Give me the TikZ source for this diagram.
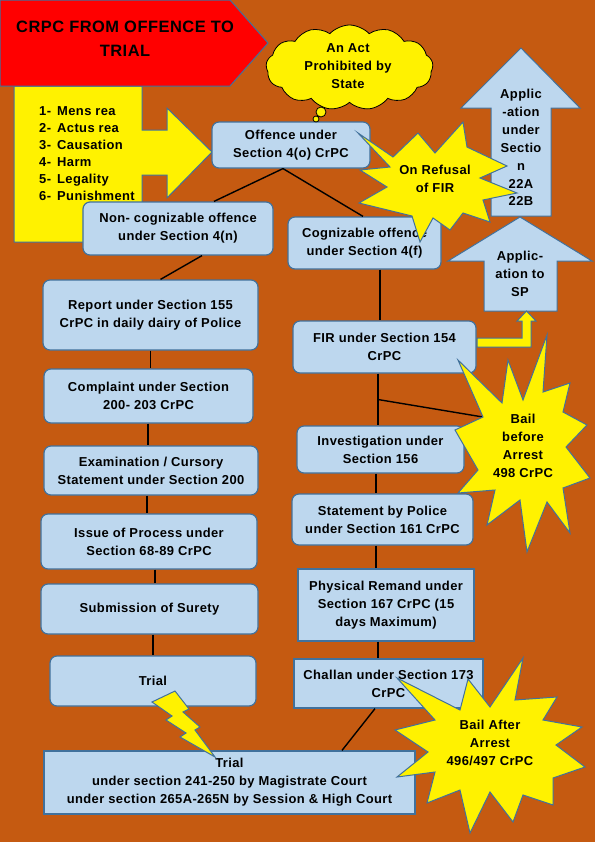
\documentclass[tikz,border=0pt]{standalone}
\usepackage{fontspec}
\setmainfont{Liberation Sans}[LetterSpace=3]
\usetikzlibrary{positioning,shapes.symbols}

\definecolor{bgorange}{RGB}{197,90,17}
\definecolor{boxblue}{RGB}{189,215,238}
\definecolor{edgeblue}{RGB}{65,113,156}

\begin{document}
\begin{tikzpicture}[x=1bp,y=-1bp,
	% Define styles for boxes, bursts and lines
	box style/.style={rectangle, rounded corners=7bp, draw=edgeblue, line width=1.2bp, fill=boxblue, align=center, font=\bfseries\fontsize{13}{18}\selectfont, inner sep=0pt},
	flat style/.style={box style, sharp corners},
	burst style/.style={fill=yellow, draw=edgeblue, line width=1bp, line join=miter},
	shape style/.style={draw=edgeblue, line width=1bp},
	link style/.style={draw=black, line width=1.4bp},
	label style/.style={align=center, font=\bfseries\fontsize{13}{18}\selectfont, inner sep=0pt}
	]

	% Background
	\fill[bgorange] (0,0) rectangle (595,842);
	\useasboundingbox (0,0) rectangle (595,842);

	% --- Elements arrow and title ---
	\filldraw[shape style, fill=yellow] (14,86) -- (142,86) -- (142,130) -- (167,130) -- (167,108) -- (212,152) -- (167,198) -- (167,175) -- (142,175) -- (142,242) -- (14,242) -- cycle;
	\node[label style, anchor=west, align=left, font=\bfseries\fontsize{13}{17}\selectfont] (elements) at (39,153.5)
		{\makebox[18bp][l]{1-}Mens rea\\\makebox[18bp][l]{2-}Actus rea\\\makebox[18bp][l]{3-}Causation\\\makebox[18bp][l]{4-}Harm\\\makebox[18bp][l]{5-}Legality\\\makebox[18bp][l]{6-}Punishment};

	\filldraw[shape style, fill=red] (0,0) -- (230,0) -- (268,43) -- (230,86) -- (0,86) -- cycle;
	\node[label style, font=\bfseries\fontsize{16.5}{24}\selectfont] (title) at (125,39) {CRPC FROM OFFENCE TO\\TRIAL};

	% --- Application arrows ---
	\filldraw[shape style, fill=boxblue] (521,48) -- (580,108) -- (551,108) -- (551,216) -- (491,216) -- (491,108) -- (461,108) -- cycle;
	\node[label style] (apply22) at (521,147.5) {Applic\\-ation\\under\\Sectio\\n\\22A\\22B};
	\filldraw[shape style, fill=boxblue] (520,217) -- (592,261) -- (557,261) -- (557,311) -- (484,311) -- (484,261) -- (448,261) -- cycle;
	\node[label style] (applysp) at (520,274) {Applic-\\ation to\\SP};

	% Define and place the boxes
	\node[box style, minimum width=158bp, minimum height=46bp] (offence) at (291,145) {Offence under\\Section 4(o) CrPC};
	\node[box style, minimum width=190bp, minimum height=53bp] (noncog) at (178,228.5) {Non- cognizable offence\\under Section 4(n)};
	\node[box style, minimum width=153bp, minimum height=52bp] (cog) at (364.5,243) {Cognizable offence\\under Section 4(f)};

	\node[box style, minimum width=215bp, minimum height=70bp] (report) at (150.5,315) {Report under Section 155\\CrPC in daily dairy of Police};
	\node[box style, minimum width=209bp, minimum height=54bp] (complaint) at (148.5,396) {Complaint under Section\\200- 203 CrPC};
	\node[box style, minimum width=214bp, minimum height=49bp] (exam) at (151,470.5) {Examination / Cursory\\Statement under Section 200};
	\node[box style, minimum width=216bp, minimum height=55bp] (issue) at (149,541.5) {Issue of Process under\\Section 68-89 CrPC};
	\node[box style, minimum width=217bp, minimum height=50bp] (surety) at (149.5,609) {Submission of Surety};
	\node[box style, minimum width=206bp, minimum height=50bp] (trialbox) at (153,681) {Trial};

	\node[box style, minimum width=183bp, minimum height=52bp] (fir) at (384.5,347) {FIR under Section 154\\CrPC};
	\node[box style, minimum width=167bp, minimum height=47bp] (invest) at (380.5,449.5) {Investigation under\\Section 156};
	\node[box style, minimum width=181bp, minimum height=51bp] (police) at (382.5,519.5) {Statement by Police\\under Section 161 CrPC};
	\node[flat style, minimum width=176bp, minimum height=72bp] (remand) at (386,605) {Physical Remand under\\Section 167 CrPC (15\\days Maximum)};
	\node[flat style, minimum width=189bp, minimum height=49bp] (challan) at (388.5,683.5) {Challan under Section 173\\CrPC};

	\node[flat style, minimum width=371bp, minimum height=63bp] (court) at (229.5,782.5) {Trial\\under section 241-250 by Magistrate Court\\under section 265A-265N by Session \& High Court};

	% --- Draw the edges ---
	\draw[link style] ([xshift=-8bp]offence.south) -- ([xshift=36bp]noncog.north);
	\draw[link style] ([xshift=-8bp]offence.south) -- ([xshift=-1.5bp]cog.north);
	\draw[link style] ([xshift=24bp]noncog.south) -- ([xshift=10bp]report.north);
	\draw[link style] (report.south) -- (report.south |- complaint.north);
	\draw[link style] ([xshift=-0.5bp]complaint.south) -- ([xshift=-0.5bp]complaint.south |- exam.north);
	\draw[link style] ([xshift=-4bp]exam.south) -- ([xshift=-4bp]exam.south |- issue.north);
	\draw[link style] ([xshift=6bp]issue.south) -- ([xshift=6bp]issue.south |- surety.north);
	\draw[link style] ([xshift=3.5bp]surety.south) -- ([xshift=3.5bp]surety.south |- trialbox.north);

	\draw[link style] ([xshift=15.5bp]cog.south) -- ([xshift=15.5bp]cog.south |- fir.north);
	\draw[link style] ([xshift=-6.5bp]fir.south) -- coordinate[pos=0.5] (firfork) ([xshift=-6.5bp]fir.south |- invest.north);
	\draw[link style] ([xshift=-4.5bp]invest.south) -- ([xshift=-4.5bp]invest.south |- police.north);
	\draw[link style] ([xshift=-6.5bp]police.south) -- ([xshift=-6.5bp]police.south |- remand.north);
	\draw[link style] ([xshift=-8bp]remand.south) -- ([xshift=-8bp]remand.south |- challan.north);
	\draw[link style] ([xshift=-13.5bp]challan.south) -- ([xshift=112.5bp]court.north);
	\coordinate (bailtip) at (483,417);
	\draw[link style] (firfork) -- (bailtip);

	% --- Thought cloud ---
	\node[cloud, cloud puffs=13, cloud puff arc=95, draw=black, fill=yellow, line width=0.8bp, minimum width=167bp, minimum height=85bp, inner sep=0pt] (actcloud) at (349.5,67.5) {};
	\node[label style] (act) at (348,66.5) {An Act\\Prohibited by\\State};
	\filldraw[draw=black, fill=yellow, line width=0.8bp] (321,112) circle (5bp) (316,119) circle (3bp);

	% --- Yellow bent arrow to SP ---
	\filldraw[shape style, fill=yellow] (477,338) -- (522,338) -- (522,321) -- (517,321) -- (526.5,311) -- (536,321) -- (531,321) -- (531,347) -- (477,347) -- cycle;

	% --- Bursts ---
	\filldraw[burst style] (358,133) -- (393,157) -- (418,133) -- (435,153) -- (463,122) -- (467,147) -- (507,166) -- (480,178) -- (517,193) -- (483,200) -- (490,222) -- (463,213) -- (450,230) -- (433,218) -- (420,242) -- (412,216) -- (359,203) -- (387,187) -- (360,170) -- (390,167) -- cycle;
	\node[label style] (refusal) at (435,179) {On Refusal\\of FIR};

	\filldraw[burst style] (547,335) -- (543,392) -- (570,383) -- (563,412) -- (587,425) -- (566,447) -- (590,478) -- (563,488) -- (570,533) -- (547,502) -- (527,552) -- (520,500) -- (487,525) -- (495,490) -- (458,493) -- (478,470) -- (455,430) -- (483,417) -- (458,360) -- (502,403) -- (508,360) -- (523,400) -- cycle;
	\node[label style] (bailbefore) at (523,445.5) {Bail\\before\\Arrest\\498 CrPC};

	\filldraw[burst style] (397,678) -- (460,710) -- (468,679) -- (490,707) -- (523,658) -- (515,700) -- (557,697) -- (543,720) -- (582,727) -- (556,745) -- (585,767) -- (553,778) -- (553,805) -- (523,795) -- (513,822) -- (490,792) -- (470,833) -- (460,790) -- (427,803) -- (435,772) -- (397,777) -- (428,752) -- (395,730) -- (435,720) -- cycle;
	\node[label style] (bailafter) at (490,743) {Bail After\\Arrest\\496/497 CrPC};

	% --- Lightning from trial to court ---
	\filldraw[burst style] (152,702) -- (175,691) -- (189,709) -- (183,712) -- (200,727) -- (195,730) -- (215,757) -- (180,737) -- (186,733) -- (166,720) -- (172,716) -- cycle;
\end{tikzpicture}
\end{document}
